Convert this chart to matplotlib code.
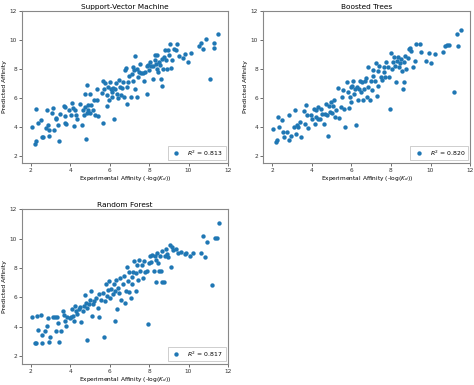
import numpy as np
import matplotlib.pyplot as plt

# Support-Vector Machine
svm_x = [2.07, 2.24, 2.25, 2.29, 2.37, 2.53, 2.56, 2.6, 2.83, 2.80, 2.9, 2.92, 2.95, 3.08, 3.14,
         3.17, 3.27, 3.3, 3.39, 3.46, 3.47, 3.68, 3.73, 3.73, 3.76, 3.81, 3.92, 4.03, 4.07, 4.12,
         4.19, 4.24, 4.29, 4.36, 4.49, 4.58, 4.66, 4.7, 4.73, 4.76, 4.8, 4.83, 4.86, 4.9, 4.93,
         5.0, 5.03, 5.08, 5.17, 5.22, 5.25, 5.34, 5.37, 5.42, 5.59, 5.64, 5.68, 5.71, 5.78, 5.85,
         5.88, 5.93, 5.98, 6.02, 6.05, 6.1, 6.14, 6.19, 6.24, 6.27, 6.32, 6.36, 6.41, 6.46, 6.53,
         6.56, 6.63, 6.69, 6.73, 6.78, 6.83, 6.86, 6.9, 6.95, 7.0, 7.07, 7.12, 7.17, 7.2, 7.24,
         7.29, 7.31, 7.37, 7.41, 7.46, 7.51, 7.54, 7.61, 7.68, 7.75, 7.8, 7.88, 7.92, 7.97, 8.02,
         8.05, 8.1, 8.19, 8.22, 8.29, 8.32, 8.36, 8.39, 8.42, 8.46, 8.51, 8.56, 8.59, 8.63, 8.68,
         8.71, 8.76, 8.81, 8.85, 8.9, 8.95, 9.02, 9.07, 9.1, 9.17, 9.24, 9.37, 9.44, 9.51, 9.71,
         9.83, 9.98, 10.14, 10.54, 10.63, 10.71, 10.86, 11.1, 11.27, 11.31, 11.47]
svm_y = [3.97, 2.83, 2.99, 5.26, 4.25, 4.48, 3.28, 3.26, 5.16, 3.93, 4.1, 3.37, 3.8, 4.98, 5.33,
         3.8, 4.59, 4.52, 4.13, 2.99, 4.91, 5.44, 5.35, 4.75, 4.29, 4.18, 5.17, 4.78, 5.62, 5.28,
         4.02, 5.17, 4.8, 4.52, 5.56, 4.13, 5.17, 4.83, 6.27, 5.35, 3.15, 4.98, 6.9, 5.49, 5.17,
         4.93, 6.28, 5.49, 5.17, 5.83, 4.8, 5.83, 6.61, 4.71, 6.31, 7.14, 4.25, 6.58, 7.0, 5.44,
         6.2, 6.77, 5.85, 7.11, 6.58, 6.42, 6.08, 6.66, 4.54, 6.58, 7.0, 6.24, 6.01, 7.23, 6.77,
         6.2, 6.66, 7.11, 6.08, 7.92, 8.08, 5.58, 6.77, 7.07, 7.5, 6.04, 7.64, 8.14, 7.16, 7.92,
         6.58, 8.88, 8.03, 6.04, 7.46, 7.8, 8.37, 7.73, 7.73, 7.16, 7.8, 8.19, 6.27, 8.3, 7.92,
         8.46, 8.19, 8.19, 7.28, 8.6, 9.0, 8.32, 8.03, 8.97, 7.8, 8.49, 8.26, 7.28, 8.72, 6.82,
         8.03, 8.83, 9.29, 8.6, 8.03, 9.29, 8.95, 9.71, 8.08, 8.65, 9.4, 9.34, 9.75, 8.88, 8.79,
         9.06, 8.49, 9.11, 9.57, 9.82, 9.4, 10.05, 7.3, 9.8, 9.45, 10.44]

# Boosted Trees
bt_x = [2.07, 2.2, 2.24, 2.29, 2.37, 2.51, 2.58, 2.63, 2.75, 2.85, 2.88, 2.97, 3.1, 3.15, 3.19,
        3.25, 3.32, 3.39, 3.47, 3.64, 3.69, 3.73, 3.76, 3.83, 3.98, 4.03, 4.1, 4.15, 4.2, 4.24,
        4.31, 4.34, 4.41, 4.47, 4.54, 4.61, 4.68, 4.75, 4.8, 4.83, 4.88, 4.92, 4.97, 5.02, 5.08,
        5.14, 5.19, 5.25, 5.34, 5.39, 5.46, 5.53, 5.59, 5.64, 5.69, 5.76, 5.81, 5.86, 5.93, 5.97,
        6.0, 6.05, 6.1, 6.14, 6.19, 6.24, 6.27, 6.34, 6.37, 6.44, 6.49, 6.54, 6.58, 6.64, 6.69,
        6.75, 6.78, 6.83, 6.86, 6.92, 6.98, 7.03, 7.08, 7.12, 7.19, 7.25, 7.29, 7.34, 7.37, 7.42,
        7.49, 7.56, 7.63, 7.66, 7.71, 7.76, 7.83, 7.88, 7.97, 8.0, 8.05, 8.1, 8.17, 8.22, 8.27,
        8.31, 8.36, 8.41, 8.44, 8.5, 8.56, 8.61, 8.64, 8.68, 8.73, 8.78, 8.85, 8.9, 8.95, 9.02,
        9.12, 9.24, 9.29, 9.46, 9.53, 9.76, 9.92, 10.0, 10.2, 10.63, 10.71, 10.81, 10.95, 11.19,
        11.32, 11.36, 11.53]
bt_y = [3.81, 2.96, 3.08, 4.68, 3.99, 4.45, 3.65, 3.3, 3.65, 4.84, 3.08, 3.35, 3.99, 5.13, 3.53,
        4.1, 3.99, 4.33, 3.3, 5.06, 4.22, 5.48, 4.79, 3.9, 4.79, 4.56, 5.25, 4.22, 4.68, 5.13,
        5.36, 4.51, 4.56, 5.25, 4.91, 4.22, 4.91, 5.59, 4.79, 3.35, 5.41, 5.02, 5.71, 4.95, 5.41,
        5.82, 4.68, 5.13, 6.69, 4.63, 5.36, 6.05, 6.51, 5.25, 3.99, 7.08, 6.39, 5.31, 6.05, 6.74,
        5.71, 6.85, 7.19, 6.28, 6.62, 4.15, 6.78, 5.82, 6.62, 7.19, 6.39, 7.08, 5.82, 6.62, 7.19,
        7.38, 6.05, 8.11, 6.74, 5.82, 7.19, 6.51, 7.54, 7.93, 7.19, 8.38, 6.16, 7.88, 6.85, 8.22,
        7.42, 7.24, 7.77, 8.11, 7.42, 8.45, 8.16, 7.42, 5.25, 9.07, 8.0, 8.45, 8.8, 8.22, 7.13,
        8.56, 8.8, 8.11, 8.38, 8.66, 7.88, 6.62, 7.08, 8.45, 8.91, 8.0, 8.75, 9.37, 9.48, 9.21,
        8.11, 8.52, 9.76, 9.71, 9.14, 8.57, 9.07, 8.43, 9.03, 9.14, 9.57, 9.66, 9.64, 6.39,
        10.4, 9.6, 10.7]

# Random Forest
rf_x = [2.07, 2.22, 2.27, 2.32, 2.37, 2.5, 2.55, 2.59, 2.74, 2.81, 2.87, 2.92, 2.99, 3.13, 3.21,
        3.26, 3.33, 3.38, 3.46, 3.55, 3.66, 3.71, 3.76, 3.8, 3.85, 3.97, 4.05, 4.1, 4.13, 4.2,
        4.27, 4.3, 4.37, 4.44, 4.5, 4.57, 4.64, 4.7, 4.76, 4.81, 4.84, 4.87, 4.94, 5.01, 5.06,
        5.11, 5.18, 5.23, 5.31, 5.39, 5.45, 5.48, 5.56, 5.65, 5.7, 5.75, 5.82, 5.87, 5.92, 5.98,
        6.03, 6.08, 6.15, 6.2, 6.25, 6.29, 6.32, 6.39, 6.42, 6.49, 6.54, 6.59, 6.66, 6.71, 6.76,
        6.82, 6.86, 6.91, 6.96, 6.99, 7.06, 7.11, 7.16, 7.21, 7.26, 7.33, 7.36, 7.41, 7.46, 7.51,
        7.56, 7.63, 7.7, 7.76, 7.8, 7.87, 7.93, 8.0, 8.03, 8.1, 8.17, 8.24, 8.3, 8.34, 8.37,
        8.4, 8.47, 8.5, 8.57, 8.6, 8.64, 8.67, 8.74, 8.79, 8.84, 8.89, 8.94, 9.04, 9.09, 9.14,
        9.21, 9.34, 9.48, 9.6, 9.82, 9.88, 10.05, 10.22, 10.64, 10.72, 10.82, 10.96, 11.21,
        11.36, 11.45, 11.56]
rf_y = [4.69, 2.92, 2.94, 4.76, 3.82, 4.83, 3.48, 2.9, 3.75, 4.09, 4.58, 2.96, 3.3, 4.69, 4.65,
        3.75, 4.69, 4.24, 2.96, 3.75, 5.09, 4.83, 4.42, 4.09, 4.69, 4.6, 4.65, 5.2, 4.76, 4.38,
        5.42, 5.09, 4.87, 5.2, 5.36, 4.31, 5.09, 5.42, 6.17, 5.65, 3.12, 5.32, 5.54, 5.81, 6.44,
        4.76, 5.54, 5.77, 5.99, 5.27, 4.65, 6.21, 5.81, 6.33, 3.35, 5.77, 6.89, 6.1, 6.48, 7.11,
        5.94, 6.55, 6.21, 6.89, 4.38, 6.44, 7.22, 5.2, 6.66, 6.33, 7.29, 5.81, 6.89, 7.45, 5.65,
        6.44, 8.05, 7.15, 6.39, 7.72, 5.99, 7.38, 6.89, 7.74, 8.46, 6.44, 7.67, 8.23, 7.22, 8.57,
        7.78, 8.19, 7.29, 8.46, 7.74, 7.78, 4.2, 8.35, 8.79, 8.41, 8.9, 7.78, 8.79, 7.04, 8.57,
        9.02, 8.35, 7.78, 8.79, 7.78, 7.07, 9.13, 7.07, 8.79, 9.31, 8.95, 8.73, 9.58, 8.05, 9.4,
        9.24, 9.31, 9.02, 9.08, 8.95, 9.02, 8.79, 9.02, 9.02, 10.18, 8.73, 9.74, 6.82,
        10.07, 10.03, 11.04]

titles = ['Support-Vector Machine', 'Boosted Trees', 'Random Forest']
r2_values = [0.813, 0.820, 0.817]
panels = [(svm_x, svm_y), (bt_x, bt_y), (rf_x, rf_y)]

boxes = [[0.046, 0.577, 0.435, 0.394],
         [0.555, 0.577, 0.437, 0.394],
         [0.046, 0.055, 0.435, 0.402]]

fig = plt.figure(figsize=(4.74, 3.85), dpi=100)

for (px, py), title, r2, box in zip(panels, titles, r2_values, boxes):
    ax = fig.add_axes(box)
    ax.scatter(px, py, s=10, color='#1f77b4', linewidths=0, label=f'$R^2$ = {r2:.3f}')
    ax.set_xlim(1.55, 12)
    ax.set_ylim(1.5, 12)
    ax.set_xticks([2, 4, 6, 8, 10, 12])
    ax.set_yticks([2, 4, 6, 8, 10, 12])
    ax.tick_params(labelsize=4.2, length=2, width=0.5, pad=1.5, colors='#333333')
    for sp in ax.spines.values():
        sp.set_linewidth(0.8)
        sp.set_color('#888888')
    ax.set_title(title, fontsize=5.3, pad=1.5)
    ax.set_xlabel('Experimental Affinity (-log($K_d$))', fontsize=4.2, labelpad=1)
    ax.set_ylabel('Predicted Affinity', fontsize=4.4, labelpad=2)
    leg = ax.legend(loc='lower right', fontsize=4.4, markerscale=1.0, handletextpad=0.8,
                    borderpad=0.45, framealpha=1, fancybox=False, scatteryoffsets=[0.5],
                    borderaxespad=0.4)
    leg.get_frame().set_linewidth(0.5)
    leg.get_frame().set_edgecolor('#bbbbbb')

fig.savefig('out.png', dpi=100)
